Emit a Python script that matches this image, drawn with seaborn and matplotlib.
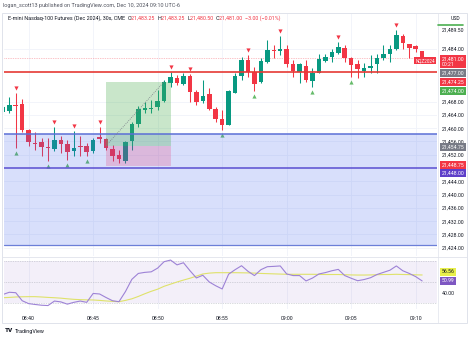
import matplotlib
matplotlib.use("Agg")
import matplotlib.pyplot as plt
from matplotlib.patches import Rectangle
from matplotlib.lines import Line2D
import numpy as np
import pandas as pd
import seaborn as sns

# ---------------- data ----------------
bar_times = pd.date_range("2024-12-10 08:38:00", periods=66, freq="30s")

opens = [21465.0, 21465.25, 21467.0, 21467.25, 21459.5, 21455.5, 21455.75, 21454.25, 21453.75, 21456.5,
         21455.25, 21453.0, 21454.5, 21454.75, 21453.0, 21457.25, 21456.75, 21453.75, 21452.0, 21450.25,
         21456.25, 21461.25, 21465.5, 21465.75, 21466.5, 21468.25, 21473.75, 21475.0, 21473.25, 21475.75,
         21471.0, 21468.25, 21470.25, 21465.75, 21462.75, 21461.0, 21470.75, 21475.75, 21480.5, 21477.0,
         21474.0, 21480.0, 21483.5, 21483.25, 21483.75, 21479.25, 21477.0, 21478.75, 21474.25, 21476.75,
         21480.25, 21481.5, 21482.75, 21484.25, 21481.0, 21479.25, 21477.25, 21478.25, 21479.25, 21481.0,
         21482.5, 21483.75, 21487.75, 21485.25, 21484.75, 21483.25]
highs = [21467.0, 21469.5, 21470.5, 21468.75, 21459.75, 21459.0, 21457.0, 21457.0, 21460.5, 21457.5,
         21456.5, 21459.25, 21457.5, 21455.5, 21457.0, 21460.5, 21457.0, 21455.0, 21453.5, 21456.0,
         21462.0, 21466.75, 21468.0, 21468.5, 21471.5, 21474.5, 21477.0, 21476.0, 21476.5, 21476.25,
         21471.5, 21474.5, 21472.0, 21466.5, 21465.5, 21471.5, 21476.5, 21481.5, 21482.0, 21478.5,
         21481.0, 21486.5, 21485.0, 21487.75, 21485.0, 21480.5, 21479.5, 21480.5, 21478.0, 21482.5,
         21482.5, 21484.0, 21486.0, 21485.0, 21481.5, 21480.5, 21479.5, 21482.0, 21482.25, 21485.0,
         21485.0, 21489.5, 21488.5, 21485.5, 21485.0, 21483.25]
lows = [21464.0, 21464.5, 21454.0, 21459.0, 21454.5, 21453.5, 21451.5, 21450.0, 21453.0, 21452.5,
        21450.5, 21451.5, 21451.5, 21451.5, 21452.5, 21455.5, 21453.5, 21450.0, 21449.5, 21449.5,
        21453.5, 21460.5, 21464.5, 21464.5, 21465.5, 21468.0, 21472.5, 21473.0, 21473.0, 21468.0,
        21467.0, 21467.5, 21465.5, 21462.0, 21459.5, 21461.0, 21470.5, 21474.5, 21475.5, 21471.25,
        21473.5, 21479.5, 21481.0, 21482.0, 21478.5, 21475.5, 21473.5, 21474.0, 21472.5, 21476.5,
        21480.0, 21480.0, 21482.5, 21480.0, 21475.5, 21475.0, 21475.5, 21476.5, 21476.5, 21480.5,
        21480.0, 21483.5, 21484.0, 21481.25, 21483.0, 21480.5]
closes = [21466.5, 21467.0, 21466.75, 21459.5, 21455.75, 21455.25, 21454.25, 21454.0, 21456.5, 21455.25,
          21452.75, 21454.0, 21454.25, 21452.75, 21456.5, 21456.75, 21454.0, 21451.5, 21450.75, 21455.75,
          21461.25, 21465.75, 21466.0, 21466.0, 21468.25, 21474.0, 21475.5, 21473.5, 21475.75, 21471.0,
          21467.75, 21469.75, 21465.75, 21462.75, 21461.0, 21471.25, 21475.75, 21480.5, 21477.0, 21473.25,
          21480.25, 21483.5, 21483.25, 21484.0, 21479.25, 21477.25, 21479.25, 21474.5, 21476.75, 21480.75,
          21481.5, 21483.0, 21484.5, 21481.0, 21479.0, 21477.75, 21478.25, 21478.75, 21481.25, 21482.5,
          21484.0, 21488.0, 21485.75, 21484.25, 21484.0, 21481.0]

rsi_values = [38.3, 40.4, 40.0, 32.5, 29.8, 29.0, 28.3, 28.0, 32.2, 31.4,
              29.3, 31.0, 32.2, 31.0, 39.3, 38.8, 35.5, 32.5, 31.6, 41.0,
              52.5, 58.0, 59.0, 59.5, 63.0, 69.0, 70.5, 66.0, 68.0, 60.6,
              53.8, 56.3, 50.0, 46.5, 43.5, 57.3, 61.5, 65.2, 60.0, 56.0,
              61.5, 64.3, 64.6, 65.0, 57.5, 56.0, 56.0, 51.0, 53.7, 57.5,
              58.8, 60.5, 61.8, 56.0, 53.5, 51.2, 52.3, 54.0, 57.0, 59.0,
              61.0, 65.0, 60.5, 58.0, 55.0, 50.99]
rsi_ma_values = [35.3, 35.6, 36.0, 36.2, 36.3, 36.3, 36.0, 35.6, 35.3, 34.9,
                 34.3, 33.8, 33.5, 33.3, 33.2, 32.8, 32.3, 31.9, 31.6, 32.8,
                 34.3, 36.5, 39.0, 41.3, 43.3, 46.0, 48.0, 50.0, 51.8, 53.5,
                 55.5, 57.5, 58.3, 58.7, 58.7, 58.7, 58.7, 58.6, 58.5, 58.3,
                 58.0, 57.8, 57.6, 57.4, 57.2, 57.2, 57.2, 57.2, 57.2, 57.1,
                 57.0, 57.0, 57.0, 56.8, 56.6, 56.5, 56.5, 56.6, 56.8, 57.0,
                 57.0, 57.2, 57.0, 56.9, 56.7, 56.56]

pivot_high_bars = [2, 8, 11, 15, 26, 29, 38, 43, 52, 61]
pivot_low_bars = [2, 7, 10, 13, 34, 39, 48, 54]

time_tick_labels = ["08:40", "08:45", "08:50", "08:55", "09:00", "09:05", "09:10"]
price_tick_values = [21424, 21428, 21432, 21436, 21440, 21444, 21452, 21456, 21460, 21464, 21468, 21484]
rsi_tick_values = [40]

resistance_level = 21477.0
zone_top = 21458.25
zone_mid = 21448.0
zone_bottom = 21424.75
entry_price = 21454.75
target_price = 21474.0
stop_price = 21448.75
position_start_bar, position_end_bar, position_track_bar = 16, 26, 25
last_price = 21481.0
top_label_price = 21489.5

# ---------------- style ----------------
sns.set_theme(style="white")
plt.rcParams['font.family'] = ['Roboto', 'DejaVu Sans']

UP, DN = '#089981', '#f23645'
TXT = '#131722'
GRID = '#f0f3fa'
AXFS = 3.7

W, H = 474, 339
fig = plt.figure(figsize=(W / 100, H / 100), dpi=100)
fig.patch.set_facecolor('white')


def rect(x0, y0, x1, y1):
    return [x0 / W, 1 - y1 / H, (x1 - x0) / W, (y1 - y0) / H]


ax = fig.add_axes(rect(4, 13, 437, 256))
axr = fig.add_axes(rect(4, 257, 437, 309))

df = pd.DataFrame(dict(bar=np.arange(len(opens)), time=bar_times, open=opens, high=highs,
                       low=lows, close=closes, rsi=rsi_values, rsi_ma=rsi_ma_values))
df['up'] = df['close'] >= df['open']
colors = np.where(df['up'], UP, DN)

time_tick_bars = [int(df.index[df['time'].dt.strftime('%H:%M:%S') == t + ":00"][0]) for t in time_tick_labels]

xlim = (0.18, 67.3)

# grid
for a in (ax, axr):
    for b in time_tick_bars:
        a.axvline(b, color=GRID, lw=0.6, zorder=0)
for p in price_tick_values:
    ax.axhline(p, color=GRID, lw=0.6, zorder=0)

# candles
ax.vlines(df['bar'], df['low'], df['high'], colors=colors, lw=0.75, zorder=3)
body_bottom = np.minimum(df['open'], df['close'])
body_h = np.maximum((df['close'] - df['open']).abs(), 0.3)
ax.bar(df['bar'], body_h, bottom=body_bottom, width=0.7, color=colors, linewidth=0, zorder=4)

# pivot markers
ph = df.loc[pivot_high_bars]
pl = df.loc[pivot_low_bars]
sns.scatterplot(x=ph['bar'].values, y=(ph['high'] + 1.5).values, marker='v', color=DN,
                s=9, linewidth=0, ax=ax, zorder=5, legend=False)
sns.scatterplot(x=pl['bar'].values, y=(pl['low'] - 1.5).values, marker='^', color='#66bb6a',
                s=9, linewidth=0, ax=ax, zorder=5, legend=False)

# last price line
ax.axhline(last_price, color=DN, ls=(0, (1, 1.5)), lw=0.5, alpha=0.6, zorder=2)

# zone
ax.axhspan(zone_bottom, zone_top, color='#3f63ee', alpha=0.2, lw=0, zorder=6)
ax.axhline(zone_top, color='#5b6fd6', lw=1.1, zorder=7)
ax.axhline(zone_mid, color='#5a4fd0', lw=1.1, zorder=7)
ax.axhline(zone_bottom, color='#6c7fd8', lw=0.9, zorder=7)

# long position tool
ax.add_patch(Rectangle((position_start_bar, entry_price), position_end_bar - position_start_bar,
                       target_price - entry_price, color='#4caf50', alpha=0.3, lw=0, zorder=6))
ax.add_patch(Rectangle((position_start_bar, stop_price), position_end_bar - position_start_bar,
                       entry_price - stop_price, color='#e91e63', alpha=0.2, lw=0, zorder=6))
ax.plot([position_start_bar, position_track_bar], [entry_price, df.loc[position_track_bar, 'close']],
        ls=(0, (1, 1.5)), color='#787b86', lw=0.6, zorder=7)

# resistance
ax.axhline(resistance_level, color='#e53935', lw=1.2, zorder=7)

ax.set_xlim(*xlim)
ax.set_ylim(21421.5, 21494.7)
ax.set_xticks([])
ax.yaxis.tick_right()
ax.set_yticks(price_tick_values)
ax.set_yticklabels([f"{v:,.2f}" for v in price_tick_values], fontsize=AXFS, color=TXT)
ax.tick_params(axis='y', length=0, pad=3.6)
ax.set_xlabel('')
ax.set_ylabel('')
for s in ax.spines.values():
    s.set_visible(False)

# RSI pane
axr.axhspan(30, 70, color='#7e57c2', alpha=0.09, lw=0, zorder=0)
for lvl in (70, 50, 30):
    axr.axhline(lvl, color='#b2b5be', lw=0.5, ls=(0, (1, 1.5)), zorder=1)
sns.lineplot(data=df, x='bar', y='rsi_ma', ax=axr, color='#dfe26a', lw=0.8, zorder=3)
sns.lineplot(data=df, x='bar', y='rsi', ax=axr, color='#9d82d6', lw=0.8, zorder=4)
axr.set_xlim(*xlim)
axr.set_ylim(24.77, 73.36)
axr.yaxis.tick_right()
axr.set_yticks(rsi_tick_values)
axr.set_yticklabels([f"{v:.2f}" for v in rsi_tick_values], fontsize=AXFS, color=TXT)
axr.set_xticks(time_tick_bars)
axr.set_xticklabels(time_tick_labels, fontsize=AXFS, color=TXT)
axr.tick_params(axis='y', length=0, pad=3.6)
axr.tick_params(axis='x', length=0, pad=4.8)
axr.set_xlabel('')
axr.set_ylabel('')
for s in axr.spines.values():
    s.set_visible(False)


def price_box(axis, value, text, fc, tc='white', dy=0.0, fs=AXFS):
    axis.annotate(text, xy=(1, value), xycoords=axis.get_yaxis_transform(),
                  xytext=(5, dy), textcoords='offset pixels', va='center', ha='left',
                  fontsize=fs, color=tc, linespacing=1.15,
                  bbox=dict(boxstyle='square,pad=0.3', fc=fc, ec='none'),
                  annotation_clip=False, zorder=20)


price_box(ax, top_label_price, f"{top_label_price:,.2f}", 'white', tc=TXT)
price_box(ax, last_price, f"{last_price:,.2f}\n00:21", DN, dy=-3)
price_box(ax, resistance_level, f"{resistance_level:,.2f}", '#787b86', dy=-1)
price_box(ax, 21474.25, "21,474.25", DN, dy=-1)
price_box(ax, target_price, f"{target_price:,.2f}", '#4caf50', dy=-9)
price_box(ax, entry_price, f"{entry_price:,.2f}", '#787b86', dy=-1)
price_box(ax, stop_price, f"{stop_price:,.2f}", DN, dy=0.5)
price_box(ax, zone_mid, f"{zone_mid:,.2f}", '#5e3fc9', dy=-5)
price_box(axr, rsi_ma_values[-1], f"{rsi_ma_values[-1]:.2f}", '#e8f04c', tc=TXT, dy=3)
price_box(axr, rsi_values[-1], f"{rsi_values[-1]:.2f}", '#7e57c2', dy=0)

ax.annotate("NQZ2024", xy=(1, last_price), xycoords=ax.get_yaxis_transform(),
            xytext=(-2, -2), textcoords='offset pixels', ha='right', va='center',
            fontsize=3.3, color='white', bbox=dict(boxstyle='square,pad=0.3', fc=DN, ec='none'),
            annotation_clip=False, zorder=20)

# frame and separators
fig.add_artist(Rectangle((2 / W, 1 - 323 / H), 465 / W, (323 - 12.7) / H, transform=fig.transFigure,
                         fill=False, ec='#e0e3eb', lw=0.7))
fig.add_artist(Line2D([2 / W, 467 / W], [1 - 256.5 / H] * 2, color='#e0e3eb', lw=0.6))
fig.add_artist(Line2D([437.5 / W, 437.5 / W], [1 - 323 / H, 1 - 12.7 / H], color='#e0e3eb', lw=0.5))
fig.add_artist(Line2D([438 / W, 463 / W], [1 - 25 / H] * 2, color='#4caf50', lw=1.2))
fig.text(455 / W, 1 - 19 / H, "USD", ha='center', va='center', fontsize=AXFS, color=TXT)

# header
renderer = fig.canvas.get_renderer()


def seq_text(x_px, y_px, pieces, size):
    x = x_px
    for s, c in pieces:
        t = fig.text(x / W, 1 - y_px / H, s, color=c, fontsize=size, va='center', ha='left', zorder=30)
        x += t.get_window_extent(renderer).width


seq_text(3, 6, [("logan_scott13 published on TradingView.com, Dec 10, 2024 09:10 UTC-6", '#50535e')], 4.0)
seq_text(7.5, 18.3, [("E-mini Nasdaq-100 Futures (Dec 2024), 30s, CME  ", TXT),
                     ("O", TXT), ("21,483.25  ", DN), ("H", TXT), ("21,483.25  ", DN),
                     ("L", TXT), ("21,480.50  ", DN), ("C", TXT), ("21,481.00  ", DN),
                     ("\u22123.00 (\u22120.01%)", DN)], 3.85)

# logo
fig.text(5 / W, 1 - 331 / H, "TV", fontsize=4.6, fontweight='heavy', color=TXT, va='center', ha='left')
fig.text(15 / W, 1 - 331 / H, "TradingView", fontsize=3.9, color=TXT, va='center', ha='left')

fig.savefig("out.png", dpi=100, facecolor='white')
